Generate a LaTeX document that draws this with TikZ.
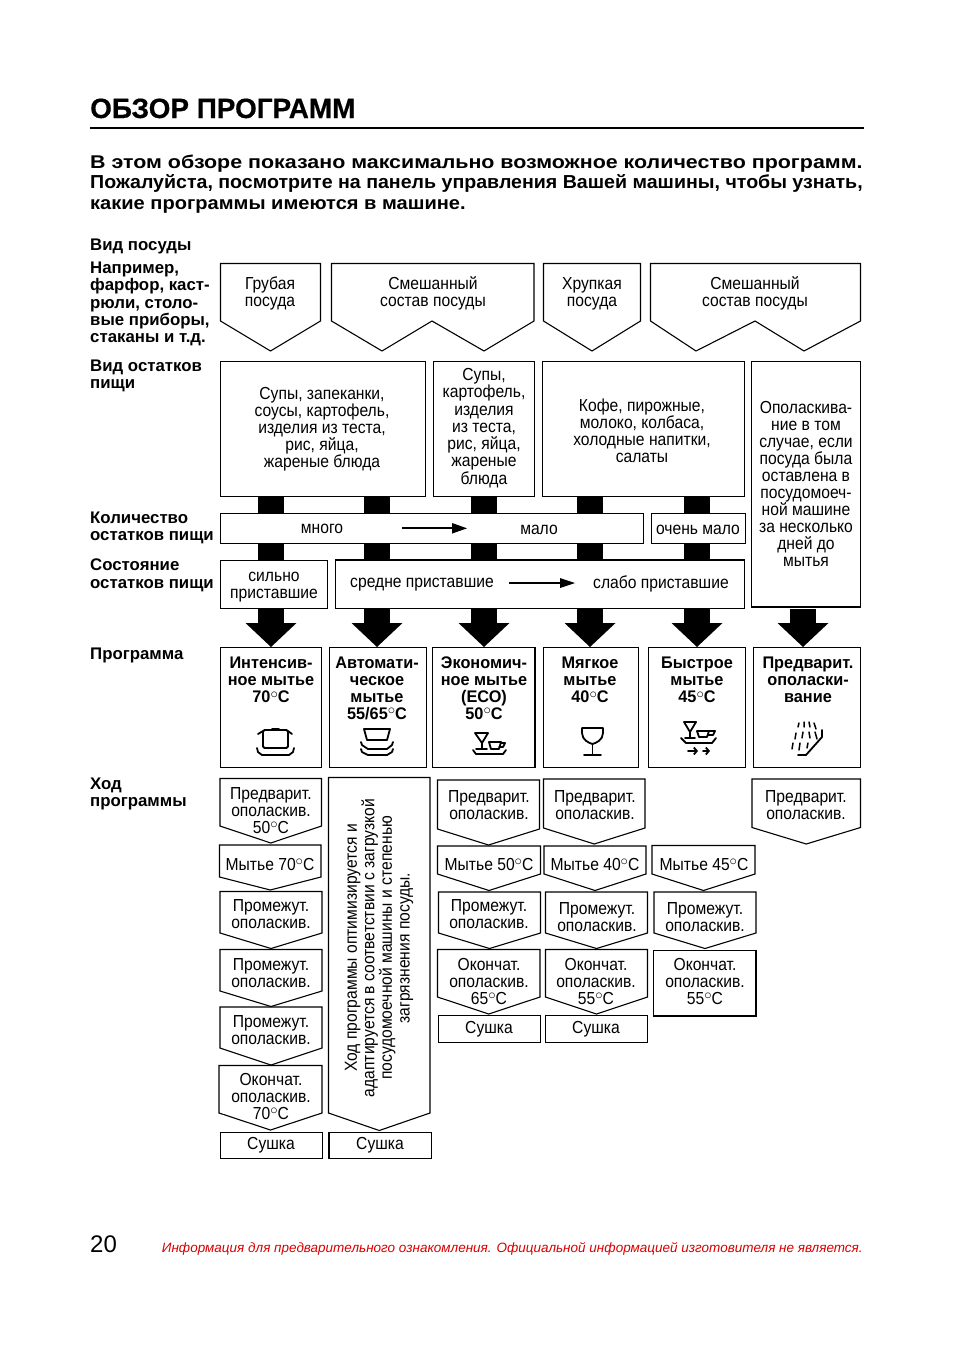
\documentclass[tikz,border=0pt]{standalone}
\usepackage{fontspec}
\setmainfont{Liberation Sans}
\newfontfamily\nar[FakeStretch=0.9]{Liberation Sans}
\newfontfamily\wba[FakeStretch=1.164]{Liberation Sans Bold}
\newfontfamily\wbb[FakeStretch=1.042]{Liberation Sans Bold}
\newfontfamily\wbc[FakeStretch=1.09]{Liberation Sans Bold}
\newfontfamily\lb[FakeStretch=0.97]{Liberation Sans Bold}
\newfontfamily\lbb[FakeStretch=1.0]{Liberation Sans Bold}
\newfontfamily\ttl[FakeBold=0.5]{Liberation Sans Bold}
\newfontfamily\redf{Liberation Sans Italic}
\newcommand{\dg}{\smash{\raisebox{0.5ex}{\scalebox{0.85}{$\circ$}}}}
\usetikzlibrary{calc,arrows.meta}
\tikzset{x=1pt,y=-1pt,
  ln/.style={draw=black,line width=1.1pt,line join=miter},
  tx/.style={inner sep=0,align=center,font=\nar\fontsize{17.4}{17}\selectfont},
  pg/.style={inner sep=0,align=center,font=\lb\fontsize{16.8}{17}\selectfont},
  lab/.style={inner sep=0,align=left,anchor=north west,font=\lbb\fontsize{16.8}{17.2}\selectfont},
  bar/.style={fill=black,draw=none},
  ic/.style={line width=1.8pt,line cap=round,line join=round,draw=black}
}
\newcommand{\pent}[5]{% x0 y0 x1 yshoulder ytip
  \draw[ln] (#1,#2) -- (#3,#2) -- (#3,#4) -- ({(#1+#3)/2},#5) -- (#1,#4) -- cycle;}
\newcommand{\rectb}[4]{\draw[ln] (#1,#2) rectangle (#3,#4);}
\newcommand{\bars}[2]{\foreach \x in {258,364,471,577,684}{\fill[bar] (\x,#1) rectangle (\x+26,#2);}}
\newcommand{\arrowdn}[1]{\fill[bar] (#1-13,609) rectangle (#1+13,623); \fill[bar] (#1-25.5,623) -- (#1+25.5,623) -- (#1,647) -- cycle;}
\begin{document}
\begin{tikzpicture}
\useasboundingbox (0,0) rectangle (954,1354);
\fill[white] (0,0) rectangle (954,1354);
% header
\node[inner sep=0,anchor=base west,font=\ttl\fontsize{27.9}{28}\selectfont] (title) at (90,118) {ОБЗОР ПРОГРАММ};
\coordinate (rl) at (90,128); \coordinate (rr) at (864,128);
\draw[line width=1.8pt] (rl) -- (rr);
\node[inner sep=0,anchor=base west,font=\wba\fontsize{18.4}{20}\selectfont] (i1) at (90,168) {В этом обзоре показано максимально возможное количество программ.};
\node[inner sep=0,anchor=base west,font=\wbb\fontsize{18.8}{20}\selectfont] (i2) at (90,188) {Пожалуйста, посмотрите на панель управления Вашей машины, чтобы узнать,};
\node[inner sep=0,anchor=base west,font=\wbc\fontsize{18.4}{20}\selectfont] (i3) at (90,209) {какие программы имеются в машине.};
% left labels
\node[lab] (l1) at (90,239) {Вид посуды};
\node[lab] (l2) at (90,262) {Например,\\фарфор, каст-\\рюли, столо-\\вые приборы,\\стаканы и т.д.};
\node[lab] (l3) at (90,360) {Вид остатков\\пищи};
\node[lab] (l4) at (90,512) {Количество\\остатков пищи};
\node[lab] (l5) at (90,559) {Состояние\\остатков пищи};
\node[lab] (l6) at (90,648) {Программа};
\node[lab] (l7) at (90,778) {Ход\\программы};
% bars
\bars{496}{514}
\bars{543}{560}
\foreach \x in {271,377,484,590,697,803}{\arrowdn{\x}}
% row 1
\pent{220.5}{263.5}{320.5}{321}{351}
\node[tx] (a1) at (270,293.5) {Грубая\\посуда};
\draw[ln] (331.5,263.5) -- (534,263.5) -- (534,321) -- (484,351) -- (432,321) -- (382,351) -- (331.5,321) -- cycle;
\node[tx] (a2) at (433,293.5) {Смешанный\\состав посуды};
\pent{543.5}{263.5}{640.5}{321}{351}
\node[tx] (a3) at (592,293.5) {Хрупкая\\посуда};
\draw[ln] (650.5,263.5) -- (860.5,263.5) -- (860.5,321) -- (804,351) -- (755,321) -- (696,351) -- (650.5,321) -- cycle;
\node[tx] (a4) at (755,293.5) {Смешанный\\состав посуды};
% row 2
\rectb{220.5}{361.5}{425.5}{496.5}
\node[tx] (b1) at (322,429) {Супы, запеканки,\\соусы, картофель,\\изделия из теста,\\рис, яйца,\\жареные блюда};
\rectb{433.5}{361.5}{534.5}{496.5}
\node[tx,font=\nar\fontsize{17.4}{17.3}\selectfont] (b2) at (484,428) {Супы,\\картофель,\\изделия\\из теста,\\рис, яйца,\\жареные\\блюда};
\rectb{542.5}{361.5}{744.5}{496.5}
\node[tx] (b3) at (642,430.5) {Кофе, пирожные,\\молоко, колбаса,\\холодные напитки,\\салаты};
\rectb{751.5}{361.5}{860.5}{607}
\node[tx] (b4) at (806,484) {Ополаскива-\\ние в том\\случае, если\\посуда была\\оставлена в\\посудомоеч-\\ной машине\\за несколько\\дней до\\мытья};
% row 3
\rectb{220.5}{513.5}{643.5}{543.5}
\node[tx] (c1) at (322,529) {много};
\node[tx] (c2) at (539,529.5) {мало};
\draw[line width=2pt] (402,528.3) -- (453,528.3);
\fill (452,523) -- (467,528.3) -- (452,533.6) -- cycle;
\rectb{651.5}{513.5}{745.5}{543.5}
\node[tx] (c4) at (698,529.5) {очень мало};
% row 4
\rectb{220.5}{560.5}{327.5}{608.5}
\node[tx] (d1) at (274,587) {сильно\\приставшие};
\rectb{335.5}{560}{744.5}{608.5}
\node[tx] (d2) at (422,585) {средне приставшие};
\node[tx] (d3) at (661,584) {слабо приставшие};
\draw[line width=2pt] (509,583) -- (560,583);
\fill (560,578) -- (575,583) -- (560,588) -- cycle;
% programme row
\rectb{220.5}{647.5}{321.5}{767.5}
\node[pg] (p1) at (271,680) {Интенсив-\\ное мытье\\70\dg C};
\rectb{329.5}{647.5}{426.5}{767.5}
\node[pg] (p2) at (377,688) {Автомати-\\ческое\\мытье\\55/65\dg C};
\rectb{432.5}{647.5}{535}{767.5}
\node[pg] (p3) at (484,688) {Экономич-\\ное мытье\\(ЕСО)\\50\dg C};
\rectb{543.5}{647.5}{638.5}{767.5}
\node[pg] (p4) at (590,680) {Мягкое\\мытье\\40\dg C};
\rectb{648.5}{647.5}{745.5}{767.5}
\node[pg] (p5) at (697,680) {Быстрое\\мытье\\45\dg C};
\rectb{753.5}{647.5}{860.5}{767.5}
\node[pg] (p6) at (808,680) {Предварит.\\ополаски-\\вание};
% icons
\begin{scope}[ic]
% pot
\draw[rounded corners=1.5pt] (263,730) rectangle (288,748);
\draw (258,734) -- (263,731) (288,731) -- (292,734);
\draw (272,729) -- (279,729);
\draw (257,748) -- (258,752) -- (262,755) -- (289,755) -- (293,752) -- (294,748);
% plates
\draw (364,729) -- (390,729) -- (387,740) -- (367,740) -- cycle;
\draw (361,742) -- (362,745) -- (368,749) -- (387,749) -- (392,745) -- (393,742);
\draw (361,749) -- (362,752) -- (368,755) -- (387,755) -- (392,752) -- (393,749);
% eco
\draw (475,733) -- (488,733) -- (482,743) -- cycle (482,743) -- (482,749) (476,749) -- (487,749);
\draw (489,742) -- (501,742) -- (499,749) -- (491,749) -- cycle (501,743) -- (505,743) -- (503,747) -- (499,747);
\draw (473,750) -- (476,754) -- (503,754) -- (506,750);
% glass
\draw (582,728) -- (603,728) -- (603,733) .. controls (603,740) and (596,743) .. (592.5,744) .. controls (589,743) and (582,740) .. (582,733) -- cycle;
\draw (592.5,744) -- (592.5,755) (584,755) -- (601,755);
% quick
\draw (684,722) -- (696,722) -- (690,732) -- cycle (690,732) -- (690,738) (685,738) -- (695,738);
\draw (697,731) -- (709,731) -- (707,737) -- (699,737) -- cycle (709,731) -- (715,731) -- (713,735) -- (708,735);
\draw (681,738) -- (686,743) -- (712,743) -- (716,738);
\draw[-{Straight Barb[length=3pt,width=7pt]}] (688,751) -- (698,751);
\draw[-{Straight Barb[length=3pt,width=7pt]}] (703,751) -- (710,751);
% rinse
\begin{scope}[line width=1.5pt]
\draw (799,723) -- (798,727) (804,722) -- (804,727) (809,722) -- (810,727) (814,723) -- (816,729);
\draw (796,733) -- (795,739) (803,732) -- (802,738) (809,732) -- (810,738) (815,732) -- (817,739);
\draw (793,743) -- (792,749) (800,743) -- (799,750) (808,743) -- (807,748);
\end{scope}
\draw (822,730) -- (822,737) -- (806,755) -- (798,755);
\end{scope}
% course col 1
\pent{220}{778.5}{321.5}{826}{843}
\node[tx] (e1) at (271,810.5) {Предварит.\\ополаскив.\\50\dg C};
\pent{219.5}{845}{321}{877}{890}
\node[tx] (e2) at (270,864) {Мытье 70\dg C};
\pent{220}{891.5}{322}{933}{948.5}
\node[tx] (e3) at (271,914) {Промежут.\\ополаскив.};
\pent{220}{949.5}{322}{991}{1006.5}
\node[tx] (e4) at (271,973.5) {Промежут.\\ополаскив.};
\pent{220}{1007}{322}{1048}{1065}
\node[tx] (e5) at (271,1030.5) {Промежут.\\ополаскив.};
\pent{219}{1065.5}{322}{1113}{1130}
\node[tx] (e6) at (271,1096.5) {Окончат.\\ополаскив.\\70\dg C};
\rectb{220.5}{1132.5}{322.5}{1158.5}
\node[tx] (e7) at (271,1145) {Сушка};
% col 2
\pent{328.5}{777.5}{430}{1113}{1130.5}
\node[inner sep=0,align=center,rotate=90,font=\nar\fontsize{17.4}{17.6}\selectfont] (f1) at (379,948) {Ход программы оптимизируется и\\адаптируется в соответствии с загрузкой\\посудомоечной машины и степенью\\загрязнения посуды.};
\rectb{329}{1132.5}{431.5}{1158.5}
\node[tx] (f2) at (380,1145) {Сушка};
% col 3
\pent{437.5}{780}{539.5}{829}{845}
\node[tx] (g1) at (489,805) {Предварит.\\ополаскив.};
\pent{437.5}{846}{540.5}{874}{890.5}
\node[tx] (g2) at (489,864) {Мытье 50\dg C};
\pent{438.5}{892}{540.5}{933}{948.5}
\node[tx] (g3) at (489,914) {Промежут.\\ополаскив.};
\pent{437.5}{949.5}{540}{997}{1014}
\node[tx] (g4) at (489,981.5) {Окончат.\\ополаскив.\\65\dg C};
\rectb{438.5}{1015.5}{540.5}{1042.5}
\node[tx] (g5) at (489,1029) {Сушка};
% col 4
\pent{543.5}{779}{645}{828}{844}
\node[tx] (h1) at (595,805) {Предварит.\\ополаскив.};
\pent{544}{846}{646}{874}{890.5}
\node[tx] (h2) at (595,864) {Мытье 40\dg C};
\pent{545.5}{892}{647.5}{933}{948.5}
\node[tx] (h3) at (597,917.5) {Промежут.\\ополаскив.};
\pent{545.5}{949.5}{647.5}{997}{1014}
\node[tx] (h4) at (596,981.5) {Окончат.\\ополаскив.\\55\dg C};
\rectb{545.5}{1015.5}{647.5}{1042.5}
\node[tx] (h5) at (596,1029) {Сушка};
% col 5
\pent{652}{845.5}{755}{874}{890.5}
\node[tx] (i2b) at (704,864) {Мытье 45\dg C};
\pent{654}{892}{756}{933}{948.5}
\node[tx] (k3) at (705,917.5) {Промежут.\\ополаскив.};
\draw[ln,line width=1.5pt] (653.5,950.5) rectangle (756,1016);
\node[tx] (k4) at (705,981.5) {Окончат.\\ополаскив.\\55\dg C};
% col 6
\pent{752}{779}{860.5}{827.5}{844}
\node[tx] (m1) at (806,805) {Предварит.\\ополаскив.};
% footer
\node[inner sep=0,anchor=base west,font=\fontsize{24}{24}\selectfont] (pn) at (90,1252) {20};
\node[inner sep=0,anchor=base east,text=red!85!black,font=\redf\fontsize{13.5}{14}\selectfont] (ft) at (863,1252) {Информация для предварительного ознакомления. Официальной информацией изготовителя не является.};
\end{tikzpicture}
\end{document}
